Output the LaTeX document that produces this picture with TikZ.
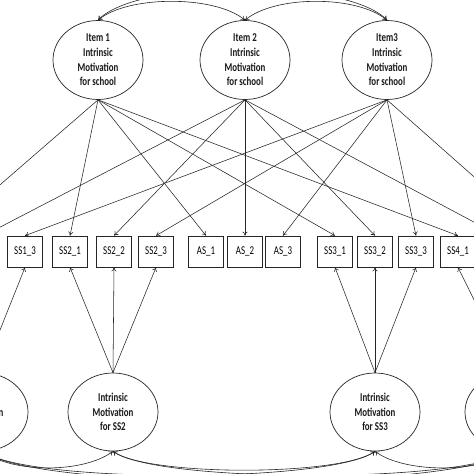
\documentclass[tikz,border=0pt]{standalone}
\usepackage{fontspec}
\setmainfont{Carlito}
\newfontfamily\nfont[FakeStretch=0.74]{Carlito}
\usetikzlibrary{shapes.geometric,arrows.meta}
\begin{document}
\begin{tikzpicture}[x=1pt,y=1pt,
  latent/.style={ellipse,draw=black!85,line width=0.7pt,minimum width=90pt,minimum height=79pt,inner sep=0pt,align=center,font=\nfont\fontsize{12}{14.7}\selectfont\bfseries,text=black!90},
  obs/.style={rectangle,draw=black!85,line width=0.7pt,minimum width=35pt,minimum height=31pt,inner sep=0pt,font=\nfont\fontsize{12}{14}\selectfont},
  load/.style={draw=black!85,line width=0.55pt,-{To[length=4pt,width=5pt]}},
  cov/.style={draw=black!85,line width=0.6pt,{To[length=4pt,width=5pt]}-{To[length=4pt,width=5pt]}}
]
\useasboundingbox (0,0) rectangle (474,-474);
\clip (0,0) rectangle (474,-474);
\fill[white] (0,0) rectangle (474,-474);

% top latent variables
\node[latent] (I1) at (98,-60) {Item 1\\Intrinsic\\Motivation\\for school};
\node[latent] (I2) at (245,-60) {Item 2\\Intrinsic\\Motivation\\for school};
\node[latent] (I3) at (387,-60) {Item3\\Intrinsic\\Motivation\\for school};

% observed
\node[obs] (b13) at (25,-251.5) {SS1\_3};
\node[obs] (b21) at (70,-251.5) {SS2\_1};
\node[obs] (b22) at (114,-251.5) {SS2\_2};
\node[obs] (b23) at (156,-251.5) {SS2\_3};
\node[obs] (a1) at (206,-251.5) {AS\_1};
\node[obs] (a2) at (245,-251.5) {AS\_2};
\node[obs] (a3) at (283,-251.5) {AS\_3};
\node[obs] (b31) at (335,-251.5) {SS3\_1};
\node[obs] (b32) at (375,-251.5) {SS3\_2};
\node[obs] (b33) at (416,-251.5) {SS3\_3};
\node[obs] (b41) at (458,-251.5) {SS4\_1};
\coordinate (c11) at (-59,-236);
\coordinate (c12) at (-17,-236);
\coordinate (c42) at (500,-236);
\coordinate (c43) at (541,-236);

% bottom latent variables
\node[latent,minimum height=78pt] (L1) at (-17,-412) {Intrinsic\\Motivation\\for SS1};
\node[latent,minimum height=78pt] (L2) at (113,-412) {Intrinsic\\Motivation\\for SS2};
\node[latent,minimum height=78pt] (L3) at (375,-412) {Intrinsic\\Motivation\\for SS3};
\node[latent,minimum height=78pt] (L4) at (510,-412) {};

% loadings from items
\draw[load] (I1.south) -- (c11);
\draw[load] (I1.south) -- (b21.north);
\draw[load] (I1.south) -- (a1.north);
\draw[load] (I1.south) -- (b31.north);
\draw[load] (I1.south) -- (b41.north);
\draw[load] (I2.south) -- (c12);
\draw[load] (I2.south) -- (b22.north);
\draw[load] (I2.south) -- (a2.north);
\draw[load] (I2.south) -- (b32.north);
\draw[load] (I2.south) -- (c42);
\draw[load] (I3.south) -- (b13.north);
\draw[load] (I3.south) -- (b23.north);
\draw[load] (I3.south) -- (a3.north);
\draw[load] (I3.south) -- (b33.north);
\draw[load] (I3.south) -- (c43);

% loadings from subject factors
\draw[load] (L1.north) -- (b13.south);
\draw[load] (L2.north) -- (b21.south);
\draw[load] (L2.north) -- (b22.south);
\draw[load] (L2.north) -- (b23.south);
\draw[load] (L3.north) -- (b31.south);
\draw[load] (L3.north) -- (b32.south);
\draw[load] (L3.north) -- (b33.south);
\draw[load] (L4.north) -- (b41.south);

% top covariances
\draw[cov] (I1.north) .. controls +(30,25) and +(-30,25) .. (I2.north);
\draw[cov] (I2.north) .. controls +(30,25) and +(-30,25) .. (I3.north);
\draw[cov] (I1.north) .. controls +(40,42) and +(-40,42) .. (I3.north);

% bottom covariances
\draw[cov] (L1.south) .. controls +(30,-22) and +(-30,-22) .. (L2.south);
\draw[cov] (L2.south) .. controls +(35,-25) and +(-35,-25) .. (L3.south);
\draw[cov] (L3.south) .. controls +(30,-22) and +(-30,-22) .. (L4.south);
\draw[cov] (L1.south) .. controls +(45,-32) and +(-45,-32) .. (L3.south);
\draw[cov] (L2.south) .. controls +(45,-32) and +(-45,-32) .. (L4.south);
\draw[cov] (L1.south) .. controls +(55,-40) and +(-55,-40) .. (L4.south);
\end{tikzpicture}
\end{document}
